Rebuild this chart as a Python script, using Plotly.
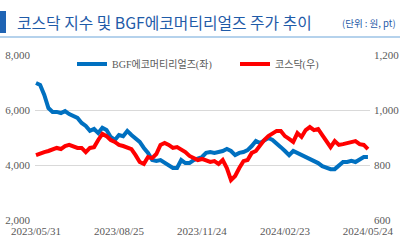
import plotly.graph_objects as go

# Trading-day index sampled every 3 trading days (0..240)
step = 3
bgf = [6980, 6910, 6550, 6070, 5930, 5930, 5890, 5960, 5850, 5780,
       5710, 5530, 5420, 5240, 5310, 5160, 5350, 5270, 5020, 4910,
       5090, 5050, 5240, 5090, 4950, 4840, 4620, 4440, 4180, 4150,
       4180, 4070, 3960, 3890, 3890, 4180, 4070, 4070, 4180, 4250,
       4290, 4440, 4470, 4440, 4470, 4510, 4580, 4510, 4360, 4440,
       4470, 4540, 4690, 4870, 4800, 4870, 4980, 4910, 4800, 4650,
       4510, 4360, 4510, 4440, 4360, 4290, 4220, 4150, 4070, 3960,
       3890, 3850, 3850, 4000, 4110, 4110, 4150, 4110, 4180, 4290, 4290]
kosdaq = [836, 843, 847, 851, 855, 862, 858, 869, 873, 869,
          862, 862, 847, 862, 865, 891, 913, 905, 891, 884,
          873, 869, 862, 858, 836, 811, 804, 829, 825, 840,
          873, 880, 873, 862, 865, 858, 847, 833, 825, 818,
          822, 818, 811, 814, 804, 818, 789, 745, 760, 789,
          814, 818, 844, 851, 873, 891, 905, 913, 924, 924,
          905, 895, 884, 916, 902, 927, 938, 927, 931, 909,
          887, 865, 887, 873, 876, 880, 884, 887, 876, 873, 858]
tick_pos = [0, 60, 120, 180, 240]
tick_labels = ["2023/05/31", "2023/08/25", "2023/11/24", "2024/02/23", "2024/05/24"]
left_ticks = [2000, 4000, 6000, 8000]
right_ticks = [600, 800, 1000, 1200]

x = [i * step for i in range(len(bgf))]

BLUE = "#0070C0"
RED = "#FF0000"
GRID = "#D9D9D9"
TXT = "#595959"
SERIF = "Liberation Serif"
LEG_FONT = "Liberation Serif, Noto Sans CJK KR"

fig = go.Figure()
fig.add_trace(go.Scatter(x=x, y=bgf, name="BGF에코머티리얼즈(좌)", mode="lines",
                         line=dict(color=BLUE, width=4), legend="legend"))
fig.add_trace(go.Scatter(x=x, y=kosdaq, name="코스닥(우)", mode="lines",
                         line=dict(color=RED, width=4), yaxis="y2", legend="legend2"))

leg_common = dict(orientation="h", yanchor="middle", xanchor="left",
                  font=dict(family=LEG_FONT, size=10, color=TXT),
                  bgcolor="rgba(0,0,0,0)", itemwidth=30)

fig.update_layout(
    width=400, height=250,
    margin=dict(l=35, r=30, t=55, b=30, autoexpand=False),
    paper_bgcolor="white", plot_bgcolor="white",
    showlegend=True,
    legend=dict(x=(72 - 35) / 335, y=(220 - 64) / 165, **leg_common),
    legend2=dict(x=(235 - 35) / 335, y=(220 - 64) / 165, **leg_common),
    xaxis=dict(range=[-0.72, 241.5], tickvals=tick_pos, ticktext=tick_labels,
               showgrid=False, zeroline=False, showline=False, ticks="",
               ticklabelstandoff=3, automargin=False,
               tickfont=dict(family=SERIF, size=11, color=TXT)),
    yaxis=dict(range=[2000, 8000], tickvals=left_ticks, tickformat=",",
               showgrid=True, gridcolor=GRID, gridwidth=1, zeroline=False,
               showline=False, ticks="", ticklabelstandoff=4, automargin=False,
               tickfont=dict(family=SERIF, size=11, color=TXT)),
    yaxis2=dict(range=[600, 1200], tickvals=right_ticks, tickformat=",",
                overlaying="y", side="right", showgrid=False, zeroline=False,
                showline=False, ticks="", ticklabelstandoff=3, automargin=False,
                tickfont=dict(family=SERIF, size=11, color=TXT)),
    hovermode=False,
)

# Title bar
fig.add_shape(type="rect", xref="paper", yref="paper", x0=-35/335, x1=-29/335,
              y0=1 + (55-33)/165, y1=1 + (55-11)/165,
              fillcolor="#1F64B4", line=dict(width=0))
fig.add_shape(type="line", xref="paper", yref="paper", x0=-35/335, x1=365/335,
              y0=1 + (55-37)/165, y1=1 + (55-37)/165,
              line=dict(color="#9DC3E6", width=1.5))
fig.add_annotation(text="코스닥 지수 및 BGF에코머티리얼즈 주가 추이",
                   xref="paper", yref="paper", x=-20/335, y=1 + (55-22)/165,
                   xanchor="left", yanchor="middle", showarrow=False,
                   font=dict(family="Noto Sans CJK KR", size=15.8, color="#1F5BA8"))
fig.add_annotation(text="(단위 : 원, pt)",
                   xref="paper", yref="paper", x=305/335, y=1 + (55-23)/165,
                   xanchor="left", yanchor="middle", showarrow=False,
                   font=dict(family="Noto Sans CJK KR", size=9.5, color="#1F5BA8"))

fig.write_html("out.html")
